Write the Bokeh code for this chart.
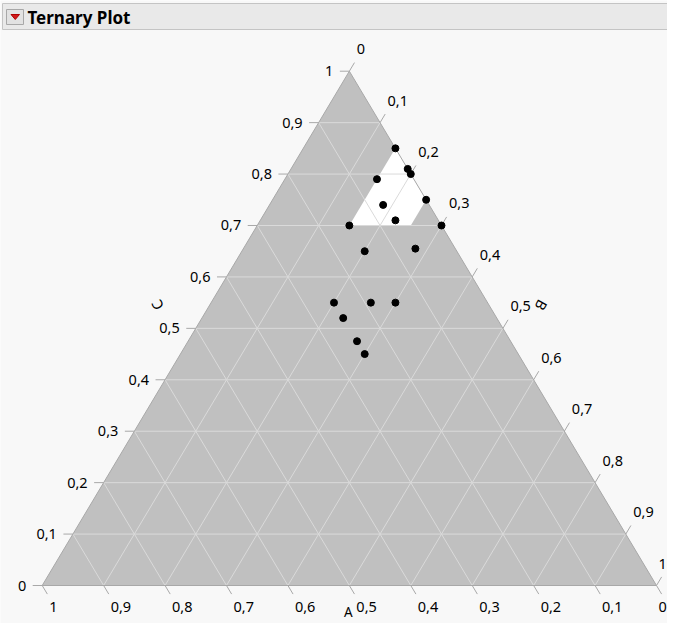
from bokeh.plotting import figure
from bokeh.models import Range1d, ColumnDataSource
from bokeh.core.properties import value
from bokeh.embed import file_html
from bokeh.resources import INLINE

# ---------------- data (ternary composition A + B + C = 1) ----------------
comp_A = [0.00, 0.00, 0.00, 0.06, 0.075, 0.00, 0.07, 0.15, 0.00,
          0.15, 0.065, 0.25, 0.19, 0.15, 0.25, 0.25, 0.25]
comp_B = [0.15, 0.19, 0.20, 0.15, 0.185, 0.25, 0.22, 0.15, 0.30,
          0.20, 0.28, 0.20, 0.26, 0.30, 0.23, 0.275, 0.30]
comp_C = [0.85, 0.81, 0.80, 0.79, 0.74, 0.75, 0.71, 0.70, 0.70,
          0.65, 0.655, 0.55, 0.55, 0.55, 0.52, 0.475, 0.45]

tick_values = [0.0, 0.1, 0.2, 0.3, 0.4, 0.5, 0.6, 0.7, 0.8, 0.9, 1.0]
tick_labels = ["0", "0,1", "0,2", "0,3", "0,4", "0,5", "0,6", "0,7", "0,8", "0,9", "1"]

# feasible-region constraints (white area)
B_low, B_high, C_low = 0.15, 0.25, 0.70

title_text = "Ternary Plot"
axis_names = ["A", "B", "C"]

# ---------------- layout ----------------
FW, FH = 667, 623
X0, Y0, W, H = 41.7, 585.0, 614.3, 514.3   # triangle placement in px

FONT = "Noto Sans"


def tern(a, b, c):
    return b + 0.5 * c, c


def px(fx, fy):
    return (fx - X0) / W, (Y0 - fy) / H


p = figure(width=FW, height=FH, output_backend="svg", toolbar_location=None,
           x_range=Range1d(-X0 / W, (FW - X0) / W),
           y_range=Range1d(-(FH - Y0) / H, Y0 / H),
           x_axis_location=None, y_axis_location=None,
           min_border=0, title=None)
p.grid.visible = False
p.outline_line_color = None
p.background_fill_color = "#f8f8f8"
p.border_fill_color = "#f8f8f8"

# header bar
hx0, hy0 = px(2, 3)
hx1, hy1 = px(FW + 5, 29)
p.quad(left=hx0, right=hx1, top=hy0, bottom=hy1, fill_color="#e9e9e9",
       line_color="#c4c4c4", line_width=1)
bx0, by0 = px(6, 9)
bx1, by1 = px(23, 24)
p.quad(left=bx0, right=bx1, top=by0, bottom=by1, fill_color="#e2e2e2",
       line_color="#a8a8a8")
t1 = px(10.5, 14)
t2 = px(19, 14)
t3 = px(14.75, 19)
p.patch(x=[t1[0], t2[0], t3[0]], y=[t1[1], t2[1], t3[1]], fill_color="#d01818",
        line_color="#b00000")
tx, ty = px(27, 16.5)
p.text(x=[tx], y=[ty], text=[title_text], text_font=value(FONT),
       text_font_size="17px", text_font_style="bold", text_color="#000000",
       text_baseline="middle", text_align="left")

# triangle
corners = [(1, 0, 0), (0, 1, 0), (0, 0, 1)]
vx = [tern(*c)[0] for c in corners]
vy = [tern(*c)[1] for c in corners]
p.patch(x=vx, y=vy, fill_color="#c0c0c0", line_color=None)

# feasible region
region_abc = [
    (0.0, B_low, 1 - B_low),
    (0.0, B_high, 1 - B_high),
    (1 - B_high - C_low, B_high, C_low),
    (1 - B_low - C_low, B_low, C_low),
]
rx = [tern(*r)[0] for r in region_abc]
ry = [tern(*r)[1] for r in region_abc]
p.patch(x=rx, y=ry, fill_color="#ffffff", line_color=None)

# grid lines
gxs, gys = [], []
for v in tick_values[1:-1]:
    for e1, e2 in (((1 - v, 0, v), (0, 1 - v, v)),
                   ((v, 1 - v, 0), (v, 0, 1 - v)),
                   ((1 - v, v, 0), (0, v, 1 - v))):
        a1 = tern(*e1); a2 = tern(*e2)
        gxs.append([a1[0], a2[0]]); gys.append([a1[1], a2[1]])
p.multi_line(xs=gxs, ys=gys, line_color="#dadada", line_width=1)

# triangle edges
p.line(x=vx + [vx[0]], y=vy + [vy[0]], line_color="#a8a8a8", line_width=1)

# ticks and labels
TL = 10.0
dxs, dys = 0.513 * TL / W, 0.858 * TL / H
tick_x0, tick_y0, tick_x1, tick_y1 = [], [], [], []
cl = {"x": [], "y": [], "t": []}
al = {"x": [], "y": [], "t": []}
bl = {"x": [], "y": [], "t": []}
for v, s in zip(tick_values, tick_labels):
    # C axis (left edge)
    bx, by = tern(1 - v, 0, v)
    tick_x0.append(bx); tick_y0.append(by)
    tick_x1.append(bx - 9.5 / W); tick_y1.append(by)
    cl["x"].append(bx - 16 / W); cl["y"].append(by); cl["t"].append(s)
    # A axis (bottom edge)
    bx, by = tern(v, 1 - v, 0)
    tick_x0.append(bx); tick_y0.append(by)
    tick_x1.append(bx + dxs); tick_y1.append(by - dys)
    al["x"].append(bx + 7 / W); al["y"].append(by - 21 / H); al["t"].append(s)
    # B axis (right edge)
    bx, by = tern(0, v, 1 - v)
    tick_x0.append(bx); tick_y0.append(by)
    tick_x1.append(bx + dxs); tick_y1.append(by + dys)
    bl["x"].append(bx + 7.5 / W); bl["y"].append(by + 22 / H); bl["t"].append(s)

p.segment(x0=tick_x0, y0=tick_y0, x1=tick_x1, y1=tick_y1,
          line_color="#a8a8a8", line_width=1)

common = dict(text_font=value(FONT), text_font_size="14.5px",
              text_color="#000000", text_baseline="middle")
p.text(x=cl["x"], y=cl["y"], text=cl["t"], text_align="right", **common)
# keep the right-most labels inside the canvas
al["x"][0] = min(al["x"][0], (FW - 9 - X0) / W)
p.text(x=al["x"], y=al["y"], text=al["t"], text_align="left", **common)
bl["x"][-1] = min(bl["x"][-1], (FW - 9 - X0) / W)
p.text(x=bl["x"], y=bl["y"], text=bl["t"], text_align="left", **common)

# axis titles
ax_x, ax_y = tern(0.5, 0.5, 0)
p.text(x=[ax_x - 1 / W], y=[ax_y - 35 / H], text=[axis_names[0]],
       text_align="center", text_baseline="bottom", text_font=value(FONT),
       text_font_size="13.5px", text_color="#000000")
bx_, by_ = tern(0, 0.5, 0.5)
p.text(x=[bx_ + 38.7 / W], y=[by_ + 23 / H], text=[axis_names[1]],
       text_align="center", angle=-2.09, **common)
cx_, cy_ = tern(0.5, 0, 0.5)
p.text(x=[cx_ - 38.7 / W], y=[cy_ + 23 / H], text=[axis_names[2]],
       text_align="center", angle=2.09, **common)

# data points
pts = [tern(a, b, c) for a, b, c in zip(comp_A, comp_B, comp_C)]
src = ColumnDataSource(dict(x=[q[0] for q in pts], y=[q[1] for q in pts]))
p.scatter(x="x", y="y", source=src, size=7, fill_color="#000000",
          line_color="#000000")

open("out.html", "w").write(file_html(p, INLINE))
